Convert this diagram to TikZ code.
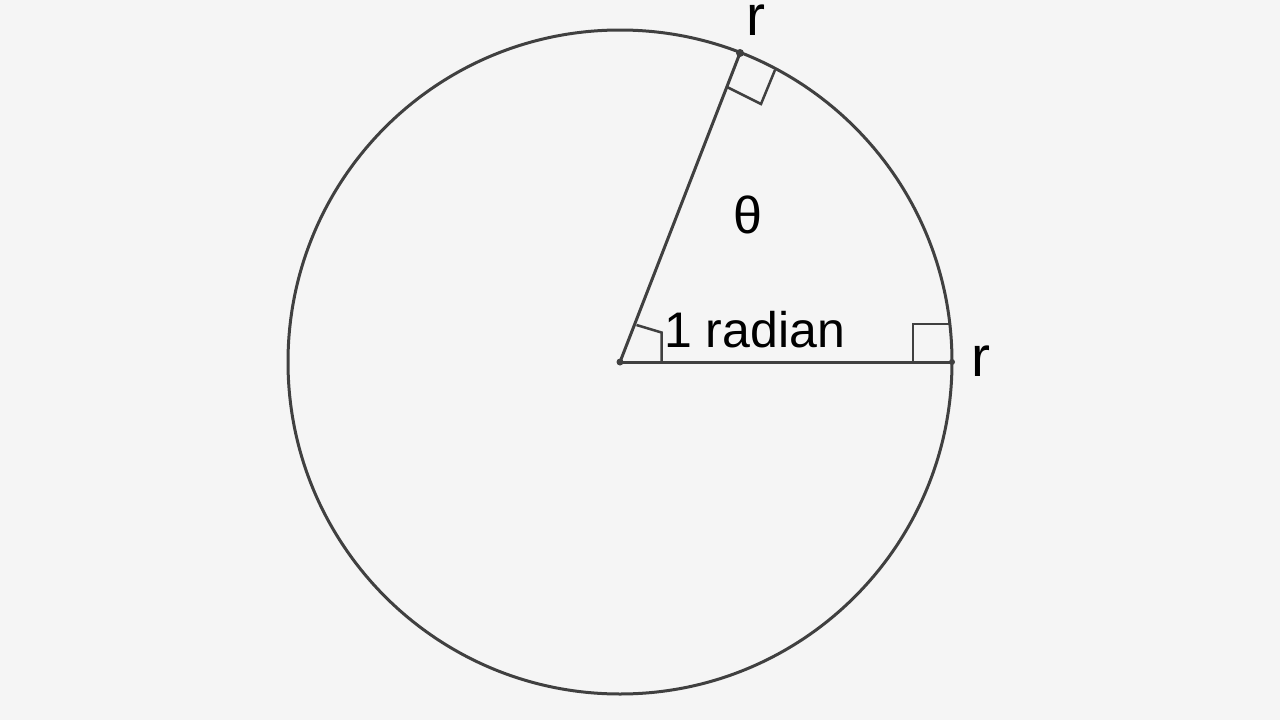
\documentclass[tikz,border=0pt]{standalone}
\usepackage{fontspec}
\setmainfont{Liberation Sans}
\begin{document}
\begin{tikzpicture}[x=1pt,y=-1pt,
  geo/.style={draw=linegray,line width=3pt},
  lbl/.style={inner sep=0pt,anchor=base,text=black}]
\definecolor{linegray}{HTML}{404040}
\definecolor{bg}{HTML}{F5F5F5}
\fill[bg] (0,0) rectangle (1280,720);
\useasboundingbox (0,0) rectangle (1280,720);
\coordinate (O) at (620,362);
\coordinate (A) at (740,53);
\coordinate (B) at (952,362);
\draw[geo] (O) circle (332);
\draw[geo] (O) -- (A);
\draw[geo] (O) -- (B);
% right angle markers
\draw[geo,line width=2.5pt] (727,87) -- (761,104) -- (775,70);
\draw[geo,line width=2.5pt] (913,362) -- (913,324) -- (949,324);
\draw[geo,line width=2.5pt] (636.5,325) -- (661.5,332.5) -- (661.5,362);
\fill[linegray] (O) circle (3.5);
\fill[linegray] (A) circle (4);
\fill[linegray] (B) circle (3);
\node[lbl,font=\fontsize{57}{60}\selectfont] (rtop) at (756,35) {r};
\node[lbl,font=\fontsize{57}{60}\selectfont] (rright) at (981,376) {r};
\node[lbl,font=\fontsize{52}{60}\selectfont] (theta) at (748,233) {θ};
\node[lbl,anchor=base west,font=\fontsize{50}{55}\selectfont] (rad) at (664,347) {1 radian};
\end{tikzpicture}
\end{document}
